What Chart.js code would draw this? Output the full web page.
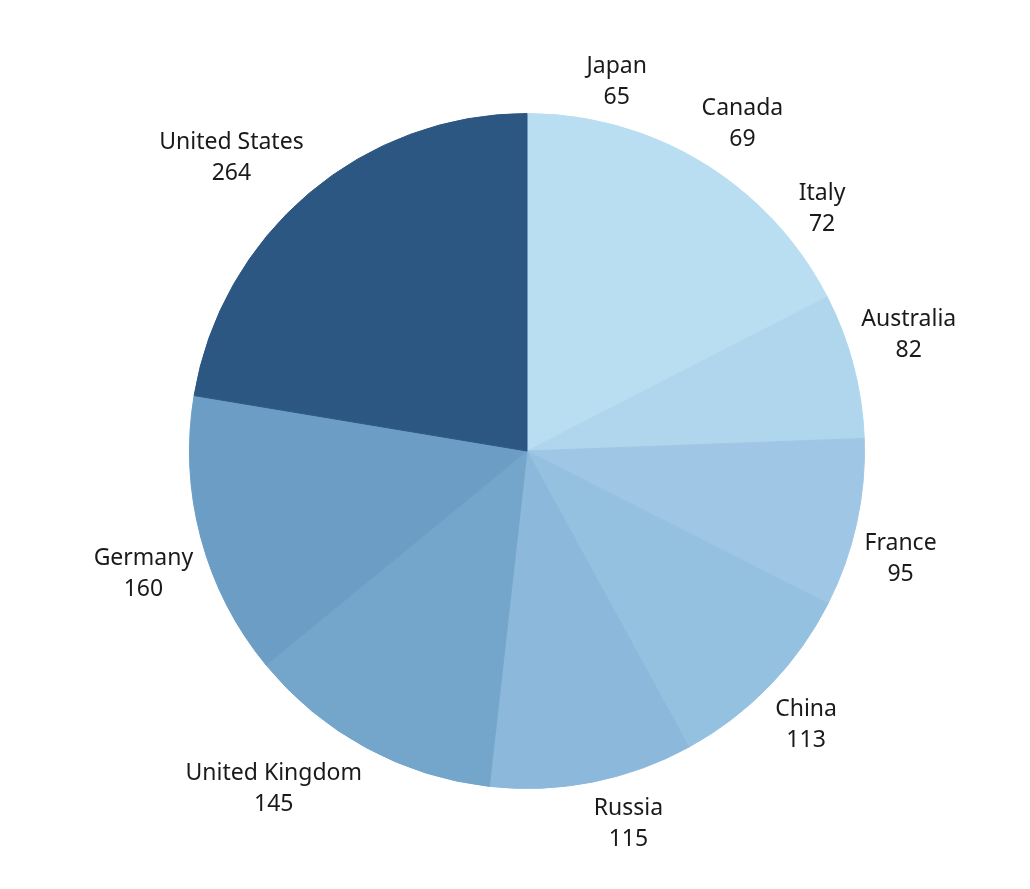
<!DOCTYPE html>
<html lang="en">
	<head>
		<meta charset="UTF-8">
		<title>Countries</title>
		<script src="https://cdn.jsdelivr.net/npm/chart.js@4/dist/chart.umd.min.js"></script>
		<style>
			html, body { margin: 0; padding: 0; background: #ffffff; }
			#pie { display: block; }
		</style>
	</head>
	<body>
		<canvas id="pie" width="1030" height="889" style="width:1030px; height:889px;"></canvas>
		<script>
			// data, clockwise from 12 o'clock
			var countries = ["Japan", "Canada", "Italy", "Australia", "France", "China", "Russia", "United Kingdom", "Germany", "United States"];
			var counts = [65, 69, 72, 82, 95, 113, 115, 145, 160, 264];
			var sliceColours = ["#b9ddf1", "#b9ddf1", "#b9ddf1", "#afd6ed", "#9fc7e5", "#95c1e0", "#8bb8db", "#74a5cb", "#6b9dc5", "#2c5783"];

			var labelFont = "23px 'Noto Sans', sans-serif";

			// Tableau-style outside labels: name over value
			var outsideLabels = {
				id: "outsideLabels",
				afterDatasetsDraw: function(chart) {
					var ctx = chart.ctx;
					var arcs = chart.getDatasetMeta(0).data;
					ctx.save();
					ctx.font = labelFont;
					ctx.fillStyle = "#1a1a1a";
					ctx.textBaseline = "alphabetic";
					ctx.textAlign = "center";
					for (var i = 0; i < arcs.length; i++) {
						var a = arcs[i];
						var mid = (a.startAngle + a.endAngle) / 2;
						var r = a.outerRadius + 8;
						var ax = a.x + Math.cos(mid) * r;
						var ay = a.y + Math.sin(mid) * r;
						var lines = [countries[i], String(counts[i])];
						var w = Math.max(ctx.measureText(lines[0]).width, ctx.measureText(lines[1]).width);
						var cx = Math.cos(mid) >= 0 ? ax + w / 2 : ax - w / 2;
						var base1;
						if (Math.sin(mid) < 0) {
							base1 = ay - 7 - 31;
						} else {
							base1 = ay + 25;
						}
						ctx.fillText(lines[0], cx, base1);
						ctx.fillText(lines[1], cx, base1 + 31);
					}
					ctx.restore();
				}
			};

			new Chart(document.getElementById("pie"), {
				type: "pie",
				data: {
					labels: countries,
					datasets: [{
						data: counts,
						backgroundColor: sliceColours,
						borderColor: sliceColours,
						borderWidth: 1
					}]
				},
				options: {
					responsive: false,
					animation: false,
					layout: { padding: { top: 113, bottom: 100, left: 100, right: 76 } },
					plugins: {
						legend: { display: false },
						tooltip: { enabled: false }
					}
				},
				plugins: [outsideLabels]
			});
		</script>
	</body>
</html>
